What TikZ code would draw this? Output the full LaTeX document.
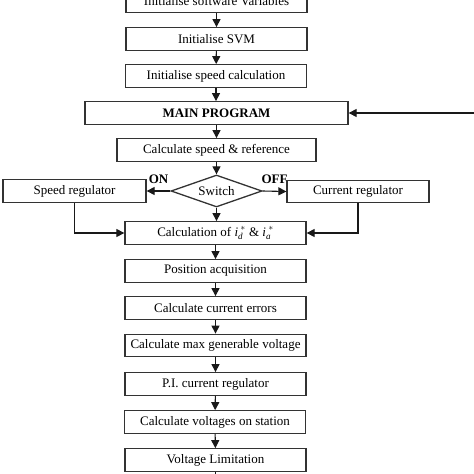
\documentclass[tikz,border=0pt]{standalone}
\usepackage{amsmath}
\usepackage{fontspec}
\setmainfont{Liberation Serif}
\usetikzlibrary{arrows.meta,shapes.geometric}
\begin{document}
\begin{tikzpicture}[x=1pt,y=-1pt,
  font=\fontsize{13}{15}\selectfont,
  box/.style={draw=black!80,line width=1.3pt,minimum height=22.5pt,inner sep=0pt,anchor=center},
  flow/.style={draw=black!90,line width=1.1pt,-{Triangle[length=8pt,width=8pt]}},
  lbl/.style={font=\fontsize{13}{15}\selectfont\bfseries,inner sep=0pt}]
\useasboundingbox (0,0) rectangle (474,474);
\node[box,minimum width=181pt] (b1) at (216.5,1.25) {Initialise software Variables};
\node[box,minimum width=181pt] (b2) at (216.5,39) {Initialise SVM};
\node[box,minimum width=181pt] (b3) at (216,76) {Initialise speed calculation};
\node[box,minimum width=263pt] (main) at (216.5,113) {\bfseries MAIN PROGRAM};
\node[box,minimum width=199pt] (spd) at (216.5,150) {Calculate speed \& reference};
\node[diamond,draw=black!80,line width=1.3pt,minimum width=91pt,minimum height=32pt,aspect=2.84,inner sep=0pt] (sw) at (216.5,191) {Switch};
\node[box,minimum width=143pt] (sreg) at (74.5,191) {Speed regulator};
\node[box,minimum width=142pt] (creg) at (358,191.5) {Current regulator};
\node[box,minimum width=181pt] (calc) at (215.5,233) {Calculation of $\textit{i}_{\textit{d}}^{\;*}$ \& $\textit{i}_{\textit{a}}^{\;*}$};
\node[box,minimum width=181pt] (pos) at (215.5,271) {Position acquisition};
\node[box,minimum width=181pt] (err) at (215.5,308) {Calculate current errors};
\node[box,minimum width=181pt] (vmax) at (215.5,345.5) {Calculate max generable voltage};
\node[box,minimum width=181pt] (pi) at (215.5,384) {P.I. current regulator};
\node[box,minimum width=181pt] (vst) at (215,422) {Calculate voltages on station};
\node[box,minimum width=181pt] (vlim) at (215.5,460) {Voltage Limitation};
\node[lbl] (on) at (158.5,179.5) {ON};
\node[lbl] (off) at (274.5,179.5) {OFF};
\coordinate (back) at (474,113);
\coordinate (out) at (215.5,474);
\draw[flow] (b1) -- (b2);
\draw[flow] (b2) -- (b3);
\draw[flow] (b3) -- (b3|-main.north);
\draw[flow] (back) -- (main.east);
\draw[flow] (main) -- (main|-spd.north);
\draw[flow] (spd) -- (sw);
\draw[flow] (sw.west) -- (sreg.east);
\draw[flow] (sw.east) -- (creg.west);
\draw[flow] (sw.south) -- (sw.south|-calc.north);
\draw[flow] (sreg.south) |- (calc.west);
\draw[flow] (creg.south) |- (calc.east);
\draw[flow] (calc) -- (pos);
\draw[flow] (pos) -- (err);
\draw[flow] (err) -- (vmax);
\draw[flow] (vmax) -- (pi);
\draw[flow] (pi) -- (vst);
\draw[flow] (vst) -- (vlim);
\draw[draw=black!90,line width=1.1pt] (vlim) -- (out);
\end{tikzpicture}
\end{document}
